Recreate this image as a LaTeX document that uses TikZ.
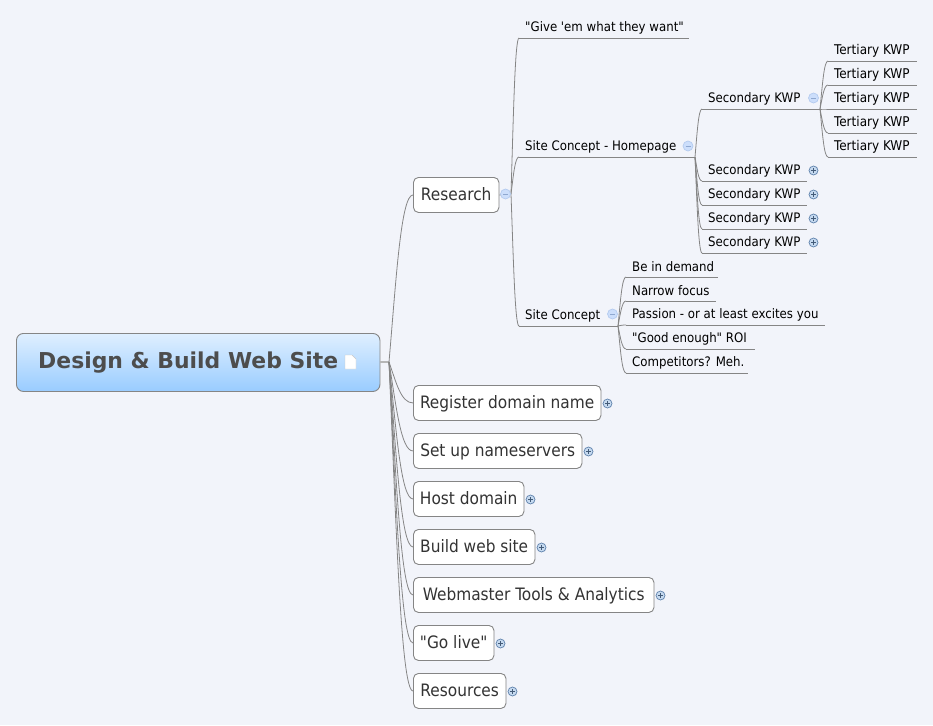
\documentclass[tikz,border=0pt]{standalone}
\usepackage{fontspec}
\newfontfamily\bodyfont{DejaVu Sans Condensed}
\newfontfamily\rootfont{DejaVu Sans}
\usetikzlibrary{calc}
\definecolor{bg}{HTML}{F2F4FA}
\definecolor{edge}{HTML}{858585}
\definecolor{txt}{HTML}{333333}
\definecolor{roottxt}{HTML}{4D4D4D}
\definecolor{roottop}{HTML}{DFEFFF}
\definecolor{rootbot}{HTML}{99CCFF}
\definecolor{plusfill}{HTML}{C6DAF0}
\definecolor{plusline}{HTML}{5F82AC}
\definecolor{minusfill}{HTML}{CCDEFB}
\definecolor{minusline}{HTML}{B4CBEF}
\definecolor{minusbar}{HTML}{8FA8D0}
\tikzset{
  x=1pt,y=-1pt,
  link/.style={draw=edge,line width=0.8pt},
  rootbox/.style={draw=edge,line width=0.9pt,rounded corners=7pt,top color=roottop,bottom color=rootbot,anchor=north west,minimum width=363.5pt,minimum height=58pt,inner sep=0pt,text=roottxt,font=\rootfont\bfseries\fontsize{21.9}{26}\selectfont},
  topic/.style={draw=edge,fill=white,line width=0.9pt,rounded corners=5pt,anchor=north west,inner sep=0pt,text height=15pt,text depth=4pt,text=txt,font=\bodyfont\fontsize{17.1}{20}\selectfont},
  leaf/.style={anchor=south west,inner xsep=6pt,inner ysep=0pt,text depth=6.5pt,text height=10pt,text=black,font=\bodyfont\fontsize{13.1}{15}\selectfont},
  togplus/.style={circle,draw=plusline,fill=plusfill,line width=0.7pt,minimum size=9pt,inner sep=0pt,
    path picture={\draw[plusline!70!black,line width=0.7pt] (path picture bounding box.center) ++(-2.5,0) -- ++(5,0) ++(-2.5,-2.5) -- ++(0,5);}},
  togminus/.style={circle,draw=minusline,fill=minusfill,line width=0.7pt,minimum size=10pt,inner sep=0pt,
    path picture={\draw[minusbar,line width=0.7pt] (path picture bounding box.center) ++(-2.5,0) -- ++(5,0);}},
}
\newcommand{\leafnode}[5]{% name x1 x2 ybottom text
  \pgfmathsetmacro{\lw}{#3-#2-12}
  \node[leaf] (#1) at (#2,#4) {\makebox[\lw pt][l]{#5}};
  \draw[link] (#1.south west) -- (#1.south east);}
\newcommand{\conn}[2]{%
  \draw[link] (#1) .. controls ($.2*(#1)+.5*(#1|-#2)+.3*(#2|-#1)$) and ($(#2)!.5!(#2-|#1)$) .. (#2);}
\begin{document}
\begin{tikzpicture}
\useasboundingbox (0,0) rectangle (933,725);
\fill[bg] (0,0) rectangle (933,725);

% hubs
\coordinate (h0) at (389,362);
\coordinate (hr) at (511,194);
\coordinate (hh) at (695,157);
\coordinate (hs) at (618,326);
\coordinate (hk) at (820,109);

% root
\node[rootbox] (root) at (16,333) {\hspace*{-20pt}Design \& Build Web Site};
\draw[draw=black!22,fill=white] (345,355) -- (352,355) -- (356,359) -- (356,369) -- (345,369) -- cycle;
\draw[edge!60,line width=2pt] (root.east|-h0) -- (h0);

% first-level topics
\node[topic,minimum width=85.5pt,minimum height=35pt] (research) at (413,177) {Research};
\node[topic,minimum width=187.5pt,minimum height=35pt] (register) at (413,385) {Register domain name};
\node[topic,minimum width=168.5pt,minimum height=35pt] (nameservers) at (413,433) {Set up nameservers};
\node[topic,minimum width=110.5pt,minimum height=35pt] (host) at (413,481) {Host domain};
\node[topic,minimum width=121.5pt,minimum height=35pt] (build) at (413,529) {Build web site};
\node[topic,minimum width=240.5pt,minimum height=35pt] (tools) at (413,577) {Webmaster Tools \& Analytics};
\node[topic,minimum width=80.5pt,minimum height=35pt] (golive) at (413,625) {"Go live"};
\node[topic,minimum width=92.5pt,minimum height=35pt] (resources) at (413,673) {Resources};
\foreach \t in {research,register,nameservers,host,build,tools,golive,resources} {\conn{h0}{\t.west}}

% second level
\leafnode{give}{519}{689}{38}{"Give 'em what they want"}
\leafnode{home}{519}{695}{157}{Site Concept - Homepage}
\leafnode{concept}{519}{618}{326}{Site Concept}
\draw[link] (research.east) -- (hr);
\foreach \t in {give,home,concept} {\conn{hr}{\t.south west}}

% secondary
\leafnode{s1}{702}{820}{109}{Secondary KWP}
\leafnode{s2}{702}{807}{181}{Secondary KWP}
\leafnode{s3}{702}{807}{205}{Secondary KWP}
\leafnode{s4}{702}{807}{229}{Secondary KWP}
\leafnode{s5}{702}{807}{253}{Secondary KWP}
\foreach \t in {s1,s2,s3,s4,s5} {\conn{hh}{\t.south west}}

% tertiary
\leafnode{t1}{828}{917}{61}{\fontsize{13.4}{15}\selectfont Tertiary KWP}
\leafnode{t2}{828}{917}{85}{\fontsize{13.4}{15}\selectfont Tertiary KWP}
\leafnode{t3}{828}{917}{109}{\fontsize{13.4}{15}\selectfont Tertiary KWP}
\leafnode{t4}{828}{917}{133}{\fontsize{13.4}{15}\selectfont Tertiary KWP}
\leafnode{t5}{828}{917}{157}{\fontsize{13.4}{15}\selectfont Tertiary KWP}
\foreach \t in {t1,t2,t3,t4,t5} {\conn{hk}{\t.south west}}

% site concept children
\leafnode{c1}{626}{718}{277}{\raisebox{-1pt}{Be in demand}}
\leafnode{c2}{626}{716}{301}{\raisebox{-1pt}{Narrow focus}}
\leafnode{c3}{626}{825}{325}{Passion - or at least excites you}
\leafnode{c4}{626}{755}{349}{"Good enough" ROI}
\leafnode{c5}{626}{748}{373}{Competitors? Meh.}
\foreach \t in {c1,c2,c3,c4,c5} {\conn{hs}{\t.south west}}

% toggles
\node[togminus] (m1) at (505.5,194) {};
\node[togminus] (m2) at (688,146) {};
\node[togminus] (m3) at (813.5,98) {};
\node[togminus] (m4) at (612.5,314) {};
\node[togplus] (p1) at (813.5,170.5) {};
\node[togplus] (p2) at (813.5,194.5) {};
\node[togplus] (p3) at (813.5,218.5) {};
\node[togplus] (p4) at (813.5,242.5) {};
\node[togplus] (p5) at (607.5,403.5) {};
\node[togplus] (p6) at (588.5,451.5) {};
\node[togplus] (p7) at (530.5,499.5) {};
\node[togplus] (p8) at (541.5,547.5) {};
\node[togplus] (p9) at (660.5,595.5) {};
\node[togplus] (p10) at (500.5,643.5) {};
\node[togplus] (p11) at (512.5,691.5) {};
\end{tikzpicture}
\end{document}
